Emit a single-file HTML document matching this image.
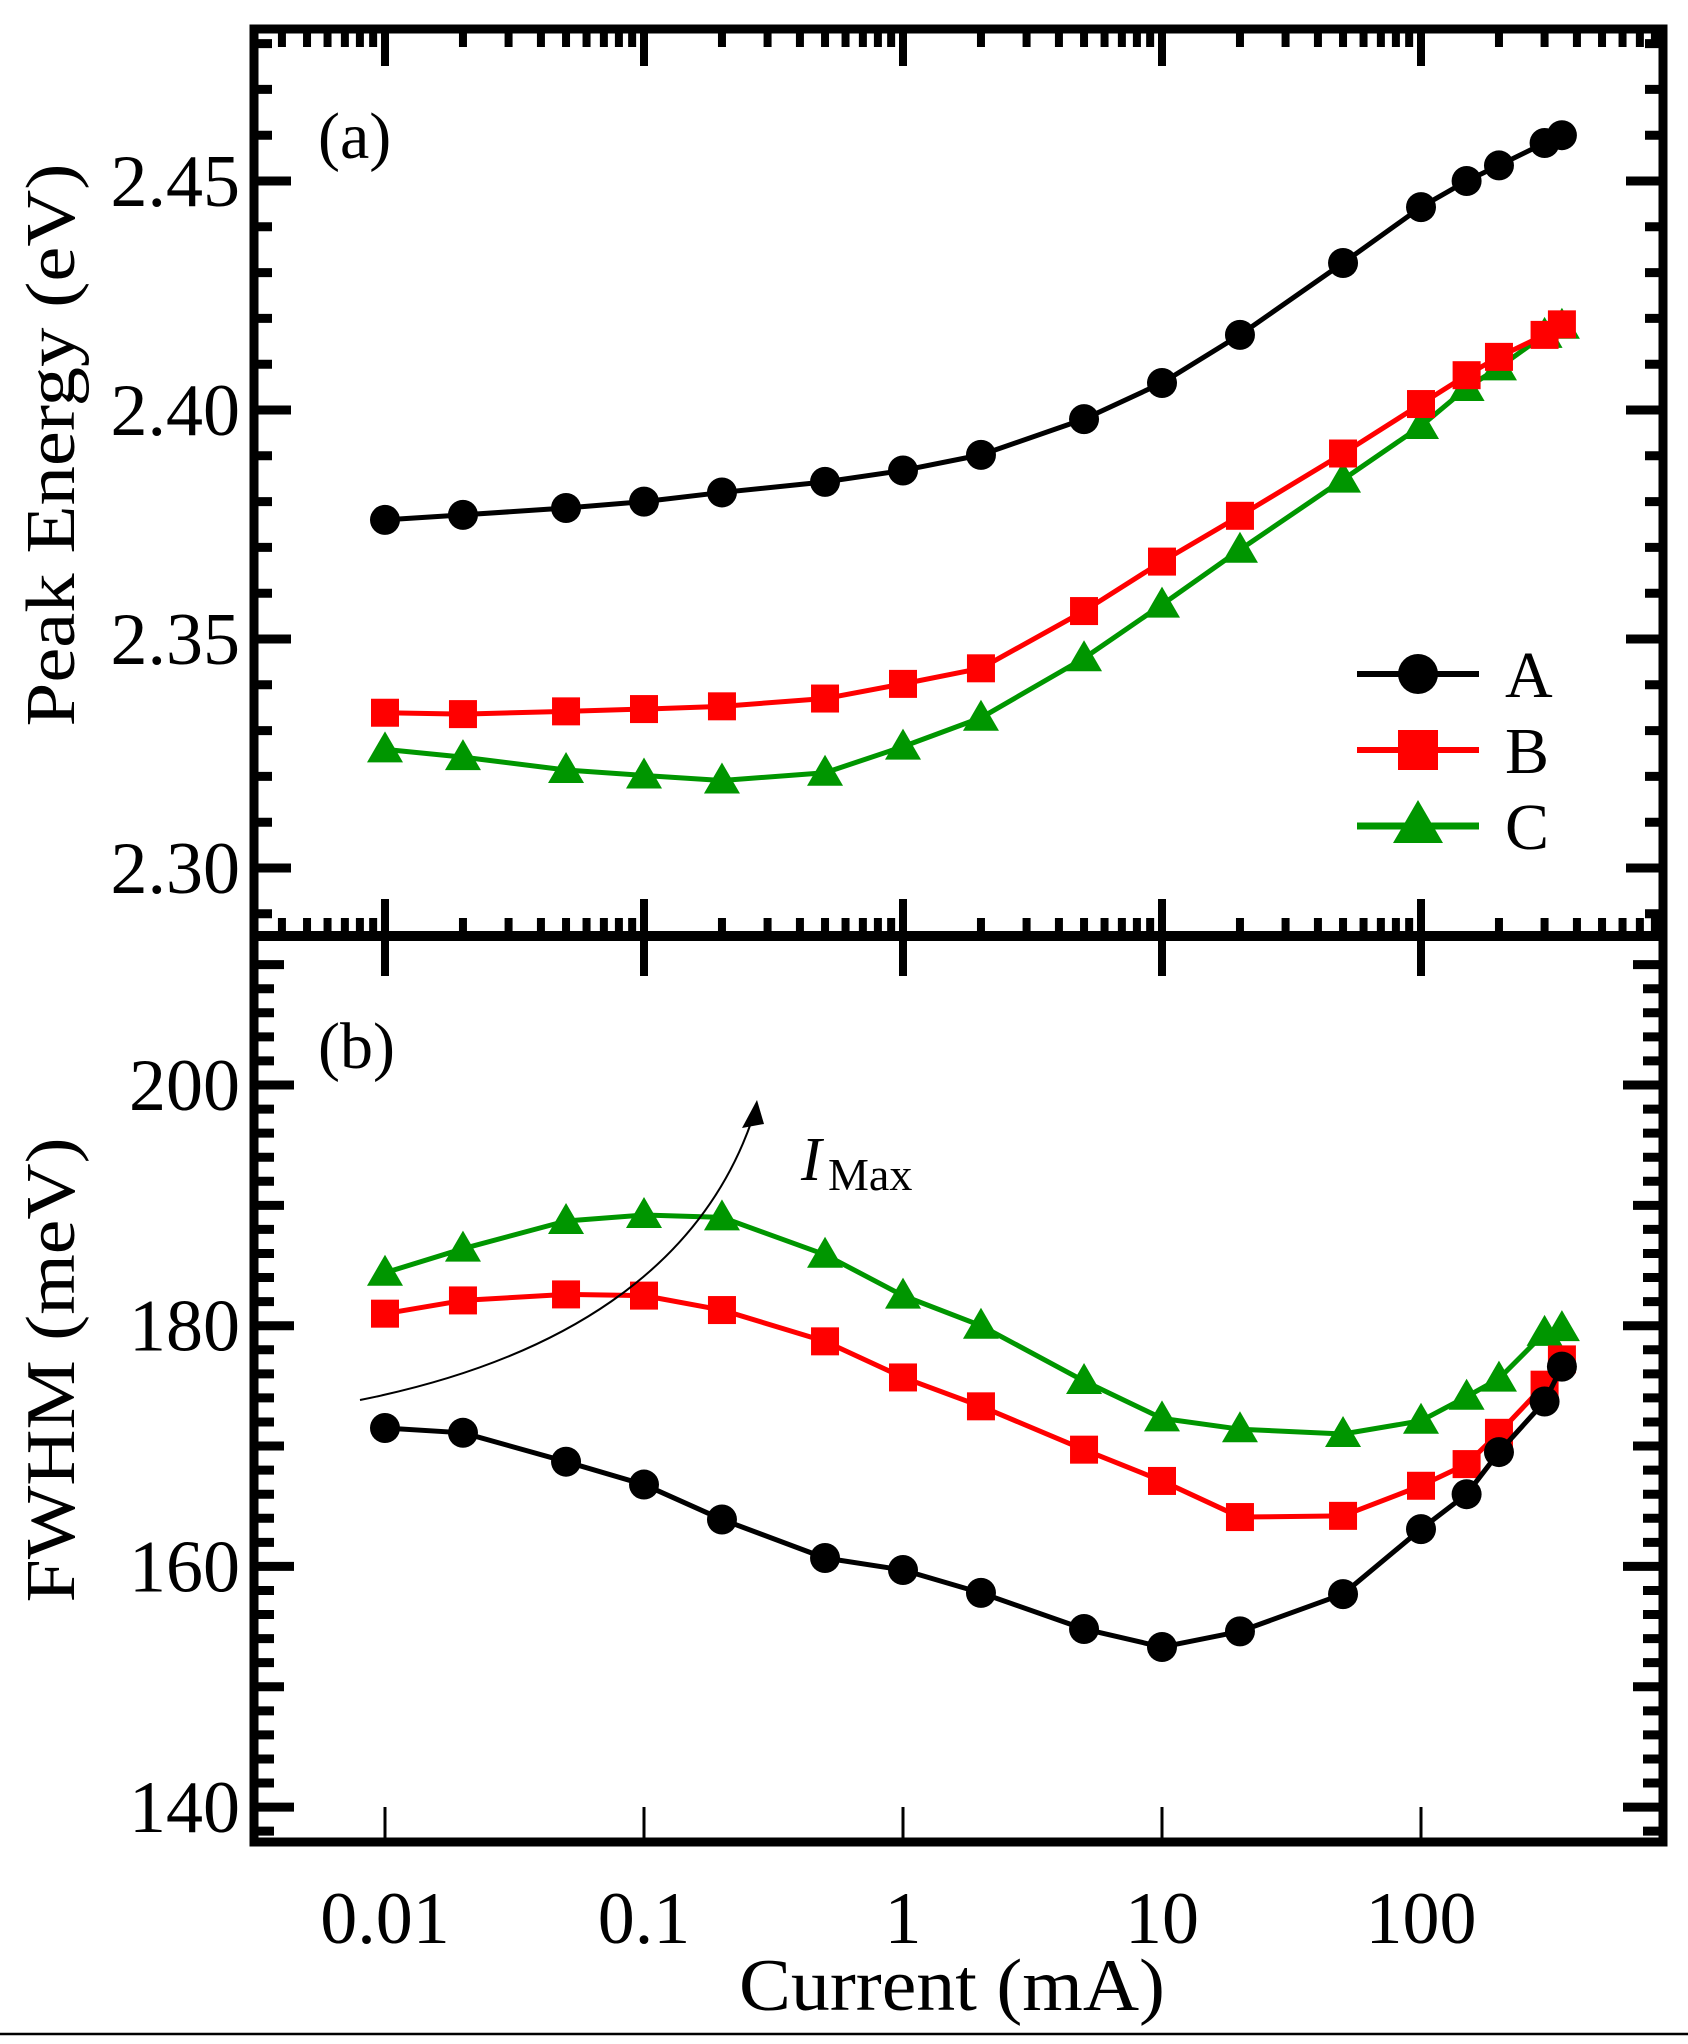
<!DOCTYPE html>
<html><head><meta charset="utf-8"><style>
html,body{margin:0;padding:0;background:#fff;}
svg{display:block;}
text{font-family:"Liberation Serif",serif;fill:#000;}
</style></head><body>
<svg id="s" width="1688" height="2044" viewBox="0 0 1688 2044" xmlns="http://www.w3.org/2000/svg">
<g id="g"></g>
<text x="318" y="158" font-size="66">(a)</text>
<text x="318" y="1068" font-size="66">(b)</text>
<text transform="translate(74,445) rotate(-90)" text-anchor="middle" font-size="70" textLength="563" lengthAdjust="spacingAndGlyphs">Peak Energy (eV)</text>
<text transform="translate(74,1370) rotate(-90)" text-anchor="middle" font-size="70" textLength="465" lengthAdjust="spacingAndGlyphs">FWHM (meV)</text>
<text x="952" y="2010" text-anchor="middle" font-size="74" textLength="426" lengthAdjust="spacingAndGlyphs">Current (mA)</text>
<text x="801" y="1180" font-size="62" font-style="italic">I</text>
<text x="828" y="1190" font-size="46">Max</text>
<path d="M360 1400 C 560 1360, 700 1270, 752 1120" fill="none" stroke="#000" stroke-width="2"/>
<path d="M757 1100 L742 1128 L764 1124 Z" fill="#000"/>
<line x1="0" y1="2034" x2="1688" y2="2034" stroke="#000" stroke-width="2.5"/>
<line x1="1357" y1="674" x2="1479" y2="674" stroke="#000" stroke-width="6"/>
<circle cx="1418" cy="674" r="20" fill="#000"/>
<text x="1505" y="697" font-size="66">A</text>
<line x1="1357" y1="750" x2="1479" y2="750" stroke="#f00" stroke-width="6"/>
<rect x="1398" y="730" width="40" height="40" fill="#f00"/>
<text x="1505" y="773" font-size="66">B</text>
<line x1="1357" y1="826" x2="1479" y2="826" stroke="#009600" stroke-width="7"/>
<path d="M1418 800 L1443 843 L1393 843 Z" fill="#009600"/>
<text x="1505" y="849" font-size="66">C</text>
</svg>
<script>
const g=document.getElementById('g');const NS='http://www.w3.org/2000/svg';
function el(t,a){const e=document.createElementNS(NS,t);for(const k in a)e.setAttribute(k,a[k]);g.appendChild(e);return e;}
const L=254,R=1663,T=29,M=936,B=1842;
const X=v=>385+259*Math.log10(v/0.01);
const YT=v=>181+(2.45-v)/0.05*229;
const YB=v=>1085+(200-v)/20*240.7;
function ln(x1,y1,x2,y2,w,c){el('line',{x1,y1,x2,y2,stroke:c||'#000','stroke-width':w});}
for(let i=0;i<=20;i++){const v=2.28+i*0.01;const y=YT(v);if(y<T+5||y>M-5)continue;
 const maj=Math.abs(Math.round(v*100)%5)==0;const l=maj?37:18;ln(L,y,L+l,y,9);ln(R,y,R-l,y,9);
 if(maj){const t=el('text',{x:240,y:y+25,'text-anchor':'end','font-size':74});t.textContent=v.toFixed(2);}}
for(let v=138;v<=212;v+=2){const y=YB(v);if(y<M+5||y>B-5)continue;
 const l=v%20==0?40:(v%10==0?30:20);ln(L,y,L+l,y,9);ln(R,y,R-l,y,9);
 if(v%20==0&&v<=200){const t=el('text',{x:240,y:y+25,'text-anchor':'end','font-size':74});t.textContent=v;}}
for(let d=-3;d<=3;d++){for(let m=1;m<=9;m++){const v=m*Math.pow(10,d);const x=X(v);if(x<L+6||x>R-6)continue;
 const l=m==1?37:18;ln(x,T,x,T+l,8);ln(x,M,x,M-l,8);
 if(m==1){ln(x,M,x,M+40,8);ln(x,B,x,B-35,3);
  const t=el('text',{x:x,y:1943,'text-anchor':'middle','font-size':74});t.textContent=(v<1?v.toFixed(d==-2?2:1):v.toFixed(0));}}}
el('rect',{x:L,y:T,width:R-L,height:B-T,fill:'none',stroke:'#000','stroke-width':9});
ln(L,M,R,M,10);
const xs=[0.01,0.02,0.05,0.1,0.2,0.5,1,2,5,10,20,50,100,150,200,300,350];
const A1=[2.376,2.3771,2.3786,2.38,2.382,2.3843,2.3868,2.3902,2.398,2.4059,2.4164,2.4321,2.4443,2.45,2.4534,2.4583,2.46];
const B1=[2.3339,2.3336,2.3342,2.3347,2.3353,2.337,2.3402,2.3436,2.3561,2.3669,2.3769,2.3905,2.4013,2.4076,2.4116,2.4164,2.4187];
const C1=[2.3259,2.3242,2.3214,2.3202,2.3191,2.3208,2.3265,2.3328,2.3458,2.3575,2.3695,2.3848,2.3965,2.4048,2.4093,2.4164,2.4184];
const A2=[171.5,171.1,168.7,166.8,163.9,160.7,159.7,157.8,154.8,153.3,154.6,157.7,163.1,166,169.5,173.7,176.6];
const B2=[181,182.1,182.6,182.5,181.3,178.7,175.7,173.3,169.7,167.1,164.1,164.2,166.7,168.5,171.1,175.1,177.2];
const C2=[184.4,186.4,188.7,189.2,189,185.9,182.5,180,175.4,172.3,171.4,171,172.1,174.1,175.6,179.4,179.8];
function series(vals,Y,col,mk){el('polyline',{points:xs.map((x,i)=>X(x)+','+Y(vals[i])).join(' '),fill:'none',stroke:col,'stroke-width':5,'stroke-linejoin':'round'});
 xs.forEach((x,i)=>{const cx=X(x),cy=Y(vals[i]);
  if(mk=='c')el('circle',{cx,cy,r:15,fill:col});
  else if(mk=='s')el('rect',{x:cx-14,y:cy-14,width:28,height:28,fill:col});
  else el('path',{d:`M${cx} ${cy-18}L${cx+18} ${cy+13}L${cx-18} ${cy+13}Z`,fill:col});});}
series(C1,YT,'#009600','t');series(B1,YT,'#ff0000','s');series(A1,YT,'#000','c');
series(C2,YB,'#009600','t');series(B2,YB,'#ff0000','s');series(A2,YB,'#000','c');
</script>
</body></html>
